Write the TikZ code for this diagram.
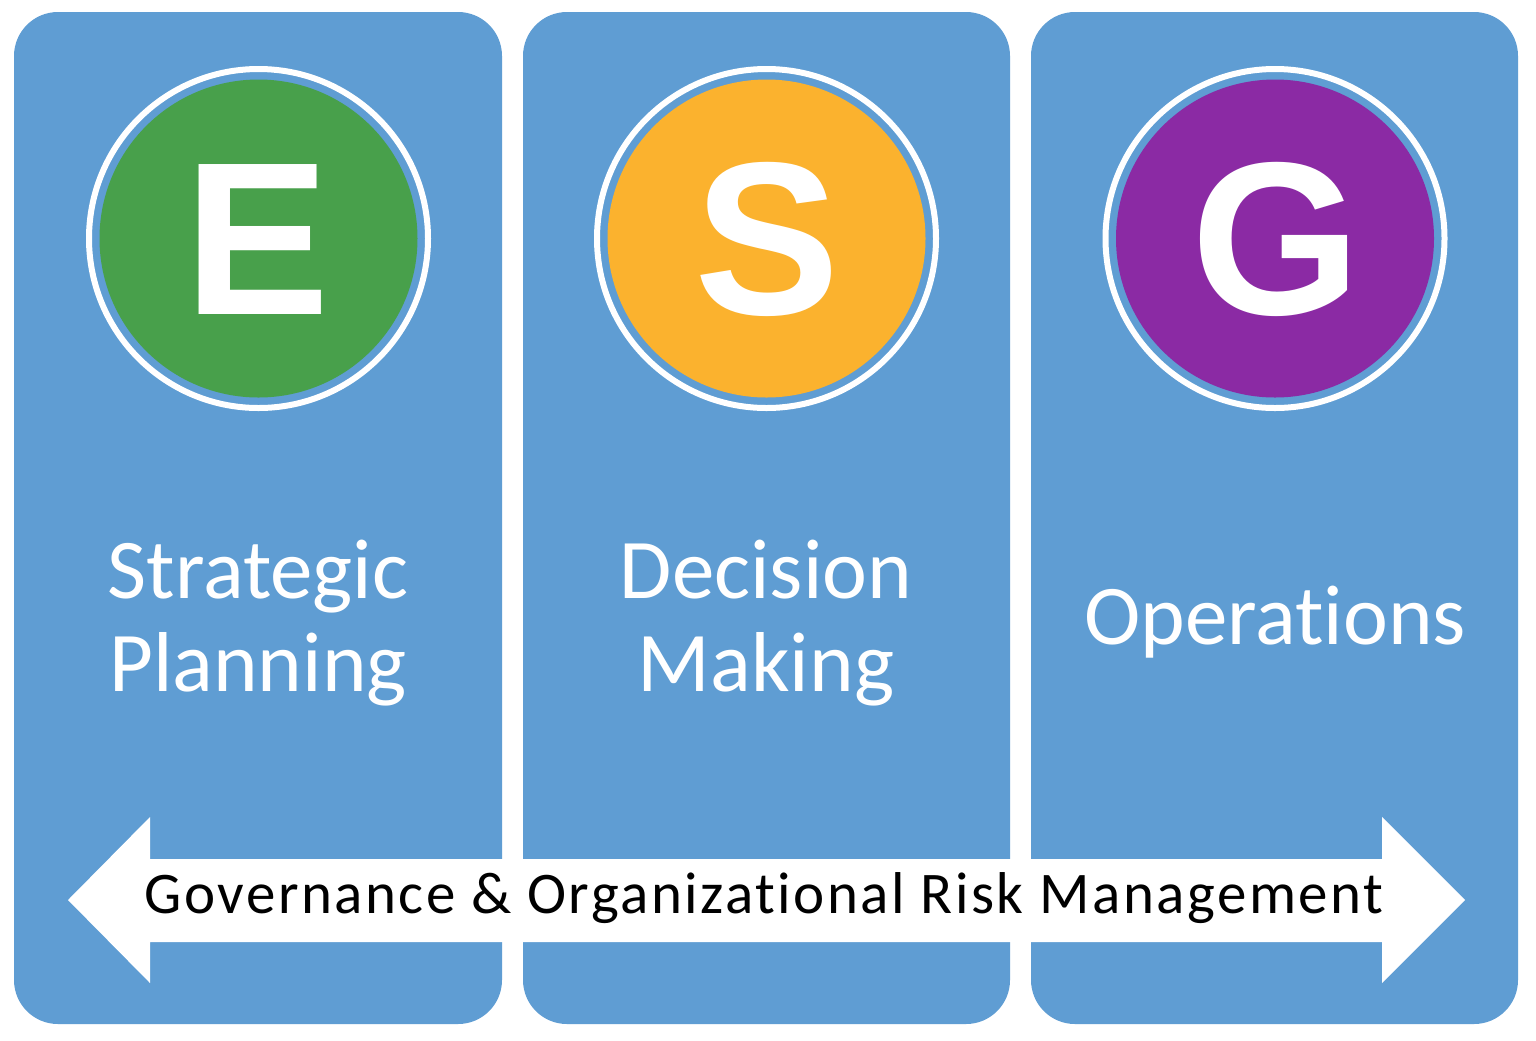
\documentclass[tikz,border=0pt]{standalone}
\usepackage{fontspec}
\setmainfont[Ligatures=NoCommon]{Carlito}
\newfontfamily\letterfont{Liberation Sans}
\newfontfamily\bandfont[Ligatures=NoCommon,LetterSpace=4.2]{Carlito}
\definecolor{panelblue}{HTML}{5F9DD3}
\definecolor{esggreen}{HTML}{48A04B}
\definecolor{esgorange}{HTML}{FBB22E}
\definecolor{esgpurple}{HTML}{8B2AA4}
\begin{document}
\begin{tikzpicture}[x=0.5pt,y=-0.5pt,
  panel/.style={fill=panelblue,rounded corners=22pt},
  ring/.style={draw=white,line width=3pt,fill=panelblue},
  letter/.style={text=white,font=\letterfont\bfseries\fontsize{109}{109}\selectfont,inner sep=0pt},
  label/.style={text=white,align=center,font=\fontsize{42.5}{46.5}\selectfont,inner sep=0pt},
  band/.style={fill=white,draw=none}]
\useasboundingbox (0,0) rectangle (1536,1040);
\fill[white] (0,0) rectangle (1536,1040);
% panels
\path[panel] (14,12) rectangle (502,1024);
\path[panel] (523,12) rectangle (1010,1024);
\path[panel] (1031,12) rectangle (1518,1024);
% circles
\foreach \cx/\col in {258.5/esggreen,766.5/esgorange,1275/esgpurple}{
  \draw[ring] (\cx,238.5) circle (169.5);
  \fill[\col] (\cx,238.5) circle (159);
}
\node[letter] (e) at (257,239) {E};
\node[letter] (s) at (767,239) {S};
\node[letter] (g) at (1276,239) {G};
% labels
\node[label] (sp) at (258,623) {Strategic\\Planning};
\node[label] (dm) at (766,623) {Decision\\Making};
\node[label] (op) at (1275,622) {Operations};
% double arrow
\path[band] (68,900) -- (150,817) -- (150,859) -- (1382,859) -- (1382,817)
  -- (1465,900) -- (1382,983) -- (1382,942) -- (150,942) -- (150,983) -- cycle;
\node[font=\bandfont\fontsize{29.5}{31}\selectfont,text=black,inner sep=0pt] (gov) at (764,898) {Governance \& Organizational Risk Management};
\end{tikzpicture}
\end{document}
